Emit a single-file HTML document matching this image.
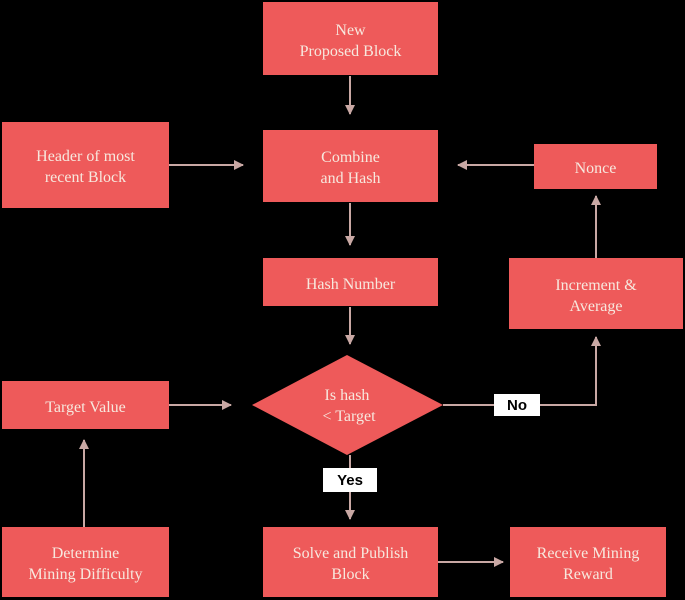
<!DOCTYPE html>
<html><head><style>
body{margin:0;background:#000;width:685px;height:600px;overflow:hidden;position:relative;font-family:"Liberation Serif",serif}
.b{position:absolute;background:#ee5a5a;color:#f7e8de;display:flex;align-items:center;justify-content:center;text-align:center;font-size:16px;line-height:21px;box-sizing:border-box;padding-top:4px}
.l{position:absolute;background:#fff;color:#000;font-family:"Liberation Sans",sans-serif;font-weight:bold;font-size:15px;display:flex;align-items:center;justify-content:center}
svg{position:absolute;left:0;top:0}
</style></head><body>
<svg width="685" height="600">
<defs><marker id="a" markerWidth="10" markerHeight="10" refX="9" refY="5" orient="auto" markerUnits="userSpaceOnUse"><path d="M0,0 L10,5 L0,10 Z" fill="#c9a8a4"/></marker></defs>
<g stroke="#c9a8a4" stroke-width="2" fill="none">
<line x1="350" y1="76" x2="350" y2="114" marker-end="url(#a)"/>
<line x1="169" y1="165" x2="243" y2="165" marker-end="url(#a)"/>
<line x1="534" y1="165" x2="458" y2="165" marker-end="url(#a)"/>
<line x1="350" y1="203" x2="350" y2="245" marker-end="url(#a)"/>
<line x1="350" y1="307" x2="350" y2="344" marker-end="url(#a)"/>
<line x1="169" y1="405" x2="231" y2="405" marker-end="url(#a)"/>
<polyline points="443,405 596,405 596,337" marker-end="url(#a)"/>
<line x1="596" y1="258" x2="596" y2="196" marker-end="url(#a)"/>
<line x1="350" y1="455" x2="350" y2="519" marker-end="url(#a)"/>
<line x1="84" y1="527" x2="84" y2="440" marker-end="url(#a)"/>
<line x1="438" y1="562" x2="503" y2="562" marker-end="url(#a)"/>
</g>
<polygon points="252,405 347,355 443,405 347,455" fill="#ee5a5a"/>
<text x="347" y="400" fill="#f7e8de" font-size="16" text-anchor="middle" font-family="Liberation Serif,serif">Is hash</text>
<text x="349" y="421" fill="#f7e8de" font-size="16" text-anchor="middle" font-family="Liberation Serif,serif">&lt; Target</text>
</svg>
<div class="b" style="left:263px;top:2px;width:175px;height:73px">New<br>Proposed Block</div>
<div class="b" style="left:263px;top:130px;width:175px;height:72px">Combine<br>and Hash</div>
<div class="b" style="left:2px;top:122px;width:167px;height:86px">Header of most<br>recent Block</div>
<div class="b" style="left:534px;top:144px;width:123px;height:45px">Nonce</div>
<div class="b" style="left:263px;top:258px;width:175px;height:48px">Hash Number</div>
<div class="b" style="left:509px;top:258px;width:174px;height:71px">Increment &amp;<br>Average</div>
<div class="b" style="left:2px;top:381px;width:167px;height:48px">Target Value</div>
<div class="b" style="left:2px;top:527px;width:167px;height:70px">Determine<br>Mining Difficulty</div>
<div class="b" style="left:263px;top:527px;width:175px;height:70px">Solve and Publish<br>Block</div>
<div class="b" style="left:510px;top:527px;width:156px;height:70px">Receive Mining<br>Reward</div>
<div class="l" style="left:494px;top:394px;width:46px;height:22px">No</div>
<div class="l" style="left:323px;top:468px;width:54px;height:24px">Yes</div>
</body></html>
